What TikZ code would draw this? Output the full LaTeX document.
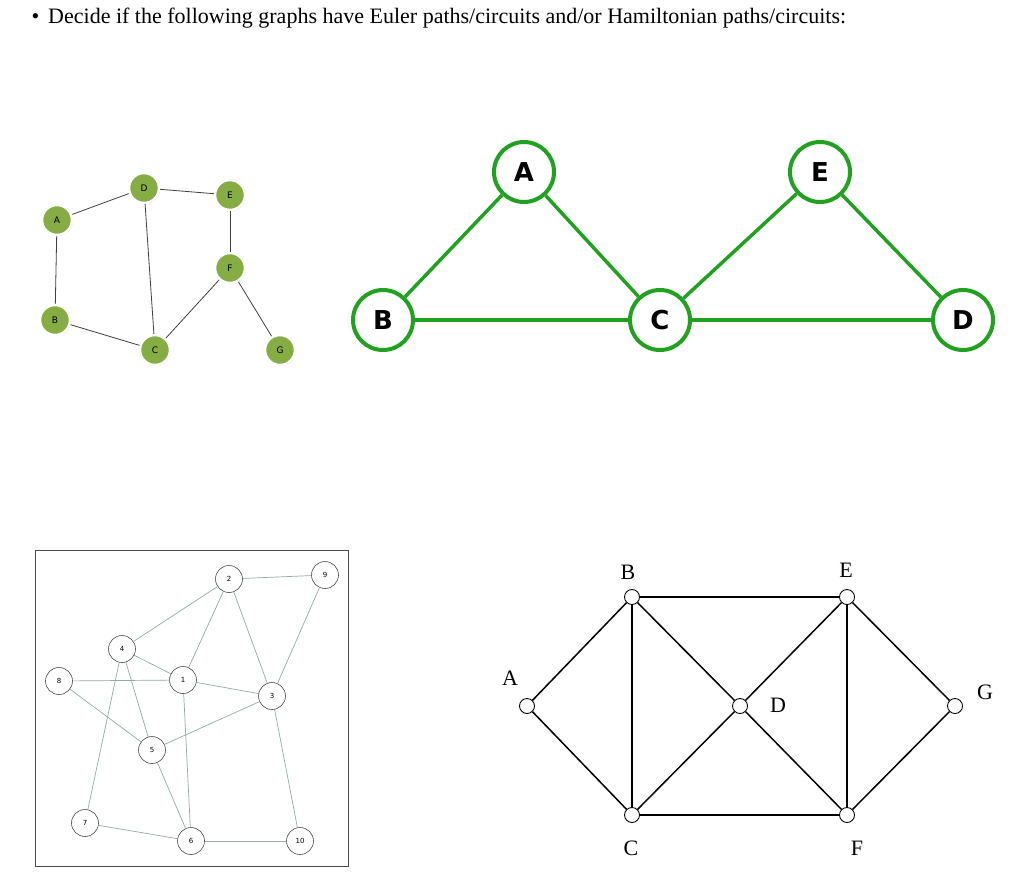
\documentclass[tikz,border=0pt]{standalone}
\usepackage{fontspec}
\usetikzlibrary{shadows,backgrounds}
\setmainfont{Liberation Serif}
\newfontfamily\sansf{DejaVu Sans}
\definecolor{gfill}{RGB}{134,172,68}
\definecolor{bgreen}{RGB}{34,160,34}
\definecolor{nline}{RGB}{150,170,165}
\begin{document}
\begin{tikzpicture}[x=1pt,y=-1pt,
  gnode/.style={circle,draw=white,line width=2.5pt,fill=gfill,minimum size=30pt,inner sep=0pt,font=\sansf\fontsize{9}{9}\selectfont,drop shadow={opacity=0.35,shadow xshift=1pt,shadow yshift=-1pt}},
  gedge/.style={line width=0.8pt,black!75},
  bnode/.style={circle,draw=bgreen,line width=4pt,fill=white,minimum size=60pt,inner sep=0pt,font=\sansf\bfseries\fontsize{26}{26}\selectfont},
  bedge/.style={line width=3.5pt,bgreen},
  nnode/.style={circle,draw=black!70,line width=0.6pt,fill=white,minimum size=27pt,inner sep=0pt,font=\sansf\fontsize{7}{7}\selectfont},
  nedge/.style={line width=0.7pt,nline},
  snode/.style={circle,draw=black,line width=0.9pt,fill=white,minimum size=15pt,inner sep=0pt},
  sedge/.style={line width=1.5pt,black},
  lbl/.style={font=\fontsize{22}{22}\selectfont}]
\useasboundingbox (0,0) rectangle (1024,876);
\fill[white] (0,0) rectangle (1024,876);
\node[anchor=west,font=\fontsize{22}{22}\selectfont] (title) at (28,18) {\textbullet\hspace{9pt}Decide if the following graphs have Euler paths/circuits and/or Hamiltonian paths/circuits:};
% graph 1
\node[gnode] (a1) at (57,220) {A};
\node[gnode] (d1) at (144,188) {D};
\node[gnode] (e1) at (230,195) {E};
\node[gnode] (f1) at (230,268) {F};
\node[gnode] (b1) at (55,320) {B};
\node[gnode] (c1) at (155,350) {C};
\node[gnode] (g1) at (280,350) {G};
\draw[gedge] (a1)--(d1); \draw[gedge] (d1)--(e1); \draw[gedge] (e1)--(f1);
\draw[gedge] (a1)--(b1); \draw[gedge] (b1)--(c1); \draw[gedge] (d1)--(c1);
\draw[gedge] (c1)--(f1); \draw[gedge] (f1)--(g1);
% graph 2
\node[bnode] (a2) at (524,172) {A};
\node[bnode] (e2) at (820,172) {E};
\node[bnode] (b2) at (383,320) {B};
\node[bnode] (c2) at (660,320) {C};
\node[bnode] (d2) at (963,320) {D};
\draw[bedge] (b2)--(a2); \draw[bedge] (a2)--(c2); \draw[bedge] (b2)--(c2);
\draw[bedge] (c2)--(e2); \draw[bedge] (e2)--(d2); \draw[bedge] (c2)--(d2);
% graph 3
\draw[line width=0.8pt,black!70] (35,550) rectangle (348,866);
\node[nnode] (n2) at (229,579) {2};
\node[nnode] (n9) at (325,575) {9};
\node[nnode] (n4) at (122,649) {4};
\node[nnode] (n1) at (183,680) {1};
\node[nnode] (n8) at (59,681) {8};
\node[nnode] (n3) at (272,696) {3};
\node[nnode] (n5) at (152,750) {5};
\node[nnode] (n7) at (85,823) {7};
\node[nnode] (n6) at (191,841) {6};
\node[nnode] (n10) at (300,841) {10};
\foreach \u/\v in {n2/n9,n2/n4,n2/n1,n2/n3,n9/n3,n4/n1,n4/n5,n4/n7,n8/n1,n8/n5,n1/n3,n1/n6,n3/n5,n3/n10,n5/n6,n7/n6,n6/n10}
  \draw[nedge] (\u)--(\v);
% graph 4
\node[snode] (b4) at (632,597) {};
\node[snode] (e4) at (847,597) {};
\node[snode] (a4) at (527,706) {};
\node[snode] (d4) at (740,706) {};
\node[snode] (g4) at (955,706) {};
\node[snode] (c4) at (632,815) {};
\node[snode] (f4) at (847,815) {};
\foreach \u/\v in {a4/b4,a4/c4,b4/e4,b4/c4,b4/d4,e4/d4,e4/f4,e4/g4,d4/c4,d4/f4,c4/f4,f4/g4}
  \draw[sedge] (\u)--(\v);
\node[lbl] (lb) at (628,572) {B};
\node[lbl] (le) at (846,570) {E};
\node[lbl] (la) at (510,678) {A};
\node[lbl] (ld) at (778,705) {D};
\node[lbl] (lg) at (985,692) {G};
\node[lbl] (lc) at (631,848) {C};
\node[lbl] (lf) at (857,848) {F};
\end{tikzpicture}
\end{document}
